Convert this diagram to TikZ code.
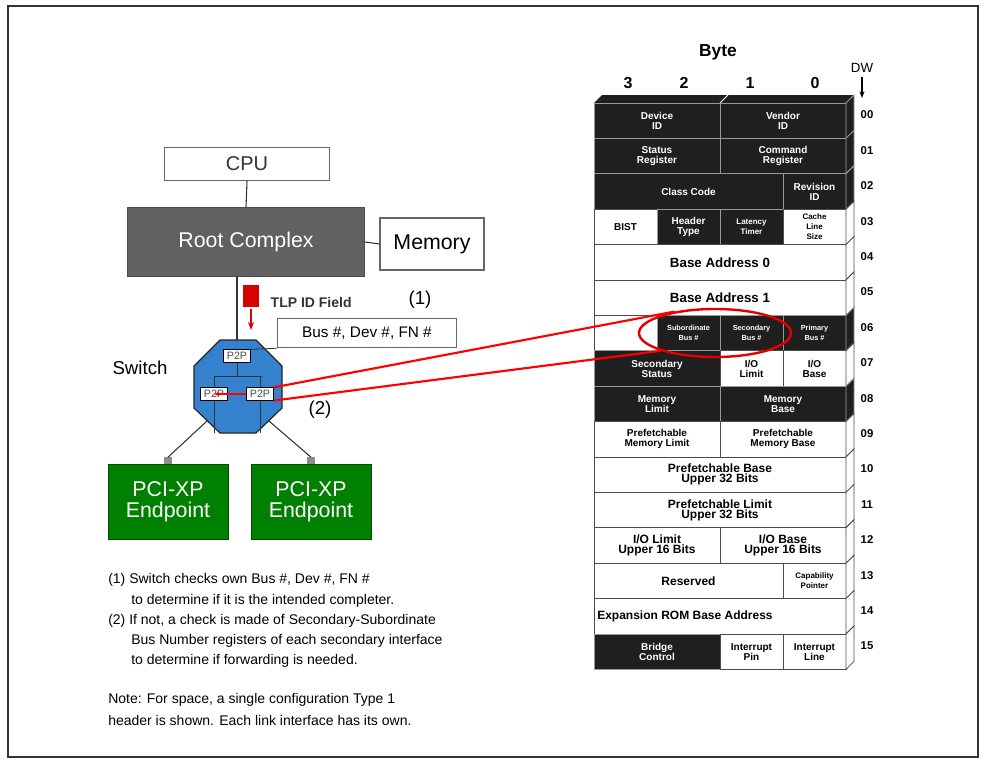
\documentclass[tikz,border=0pt]{standalone}
\usepackage{fontspec}
\setmainfont{Liberation Sans}
\usetikzlibrary{shapes.geometric,arrows.meta}
\newcommand\rc[5]{%
 \pgfmathsetmacro\ya{103+35.4*#3}\pgfmathsetmacro\yb{\ya+35.4}%
 \draw[#4] (#1,\ya) rectangle (#2,\yb);
 \node[#4txt] at ({(#1+#2)/2},{(\ya+\yb)/2}) {#5};}
\newcommand\sd[2]{%
 \pgfmathsetmacro\ya{103+35.4*#1}\pgfmathsetmacro\yb{\ya+35.4}%
 \draw[#2] (846,\ya) -- (854,\ya-8) -- (854,\yb-8) -- (846,\yb) -- cycle;
 \node[dwl] at (867,\ya+12) {\ifnum#1<10 0\fi#1};}
\tikzset{
 blk/.style={fill=black!88,draw=black!40,line width=0.6pt},
 wht/.style={fill=white,draw=black!70,line width=0.6pt},
 blktxt/.style={text=white,font=\bfseries\fontsize{7.5}{7.5}\selectfont,align=center,inner sep=0pt},
 whttxt/.style={text=black,font=\bfseries\fontsize{7.5}{7.5}\selectfont,align=center,inner sep=0pt},
 dwl/.style={font=\bfseries\fontsize{8.5}{9}\selectfont},
 box/.style={draw=black!60,line width=0.8pt,fill=white,inner sep=0pt},
 ep/.style={fill=green!50!black,draw=green!30!black,text=white,minimum width=90pt,minimum height=56pt,align=center,font=\fontsize{16}{16}\selectfont,inner sep=0pt},
 p2p/.style={draw=black,fill=white,font=\fontsize{8}{8}\selectfont,minimum width=20pt,minimum height=9.5pt,inner sep=0pt,text=black!70},
 note/.style={anchor=west,font=\fontsize{10.5}{11}\selectfont,inner sep=0pt},
 ln/.style={draw=black!80,line width=0.8pt},
 rl/.style={draw=red,line width=1.6pt}
}
\begin{document}
\begin{tikzpicture}[x=0.75pt,y=-0.75pt]
\useasboundingbox (0,0) rectangle (986,764);
\draw[black!80,line width=0.8pt] (8,6) rectangle (978,757);
% register table
\node[font=\bfseries\fontsize{13}{13}\selectfont] (byte) at (718,52) {Byte};
\foreach \c/\x in {3/628,2/684,1/750,0/815}{\node[font=\bfseries\fontsize{12}{12}\selectfont] (b\c) at (\x,83) {\c};}
\node[font=\fontsize{10}{10}\selectfont] (dw) at (862,68) {DW};
\coordinate (dwe) at (862,98);
\draw[-{Stealth[length=5pt]},line width=1pt] (dw.south) -- (dwe);
\fill[black!88] (594,103) -- (602,95) -- (854,95) -- (846,103) -- cycle;
\draw[white,line width=0.6pt] (720,103) -- (728,95);
\rc{594}{720}{0}{blk}{Device\\ID}
\rc{720}{846}{0}{blk}{Vendor\\ID}
\rc{594}{720}{1}{blk}{Status\\Register}
\rc{720}{846}{1}{blk}{Command\\Register}
\rc{594}{783}{2}{blk}{Class Code}
\rc{783}{846}{2}{blk}{Revision\\ID}
\rc{594}{657}{3}{wht}{BIST}
\rc{657}{720}{3}{blk}{Header\\Type}
\rc{720}{783}{3}{blk}{\fontsize{6}{6}\selectfont Latency\\\fontsize{6}{6}\selectfont Timer}
\rc{783}{846}{3}{wht}{\fontsize{6}{6}\selectfont Cache\\\fontsize{6}{6}\selectfont Line\\\fontsize{6}{6}\selectfont Size}
\rc{594}{846}{4}{wht}{\fontsize{10}{10}\selectfont\bfseries Base Address 0}
\rc{594}{846}{5}{wht}{\fontsize{10}{10}\selectfont\bfseries Base Address 1}
\rc{594}{657}{6}{wht}{}
\rc{657}{720}{6}{blk}{\fontsize{5.5}{6}\selectfont Subordinate\\\fontsize{5.5}{6}\selectfont Bus \#}
\rc{720}{783}{6}{blk}{\fontsize{5.5}{6}\selectfont Secondary\\\fontsize{5.5}{6}\selectfont Bus \#}
\rc{783}{846}{6}{blk}{\fontsize{5.5}{6}\selectfont Primary\\\fontsize{5.5}{6}\selectfont Bus \#}
\rc{594}{720}{7}{blk}{Secondary\\Status}
\rc{720}{783}{7}{wht}{I/O\\Limit}
\rc{783}{846}{7}{wht}{I/O\\Base}
\rc{594}{720}{8}{blk}{Memory\\Limit}
\rc{720}{846}{8}{blk}{Memory\\Base}
\rc{594}{720}{9}{wht}{Prefetchable\\Memory Limit}
\rc{720}{846}{9}{wht}{Prefetchable\\Memory Base}
\rc{594}{846}{10}{wht}{\fontsize{9}{9}\selectfont\bfseries Prefetchable Base\\\fontsize{9}{9}\selectfont\bfseries Upper 32 Bits}
\rc{594}{846}{11}{wht}{\fontsize{9}{9}\selectfont\bfseries Prefetchable Limit\\\fontsize{9}{9}\selectfont\bfseries Upper 32 Bits}
\rc{594}{720}{12}{wht}{\fontsize{9}{9}\selectfont\bfseries I/O Limit\\\fontsize{9}{9}\selectfont\bfseries Upper 16 Bits}
\rc{720}{846}{12}{wht}{\fontsize{9}{9}\selectfont\bfseries I/O Base\\\fontsize{9}{9}\selectfont\bfseries Upper 16 Bits}
\rc{594}{783}{13}{wht}{\fontsize{9}{9}\selectfont\bfseries Reserved}
\rc{783}{846}{13}{wht}{\fontsize{6}{6}\selectfont Capability\\\fontsize{6}{6}\selectfont Pointer}
\pgfmathsetmacro\ya{103+35.4*14}
\draw[wht] (594,\ya) rectangle (846,\ya+35.4);
\node[whttxt,anchor=west,font=\bfseries\fontsize{9}{9}\selectfont] (rom) at (597,\ya+17.7) {Expansion ROM Base Address};
\rc{594}{720}{15}{blk}{Bridge\\Control}
\rc{720}{783}{15}{wht}{Interrupt\\Pin}
\rc{783}{846}{15}{wht}{Interrupt\\Line}
\foreach \r/\s in {0/blk,1/blk,2/blk,3/wht,4/wht,5/wht,6/blk,7/wht,8/blk,9/wht,10/wht,11/wht,12/wht,13/wht,14/wht,15/wht}{\sd{\r}{\s}}
% left part
\node[box,minimum width=124pt,minimum height=25pt,font=\fontsize{15}{15}\selectfont,text=black!80] (cpu) at (247,164) {CPU};
\node[fill=black!62,draw=black!70,minimum width=178pt,minimum height=52pt,text=white,font=\fontsize{16}{16}\selectfont] (rc) at (246,242) {Root Complex};
\node[box,minimum width=78pt,minimum height=39pt,font=\fontsize{16}{16}\selectfont] (mem) at (432,244) {Memory};
\draw[ln] (cpu.south) -- (rc.north);
\draw[ln] (rc.east) -- (mem.west);
% switch octagon
\coordinate (o1) at (220,340); \coordinate (o2) at (256,340);
\coordinate (o3) at (282,366); \coordinate (o4) at (282,408);
\coordinate (o5) at (256,433); \coordinate (o6) at (220,433);
\coordinate (o7) at (194,408); \coordinate (o8) at (194,366);
\draw[fill=cyan!55!blue!85,draw=black!85,line width=0.9pt] (o1)--(o2)--(o3)--(o4)--(o5)--(o6)--(o7)--(o8)--cycle;
\coordinate (swt) at (237,340);
\draw[ln] (rc.south -| swt) -- (swt);
\node[font=\fontsize{14}{14}\selectfont] (swl) at (140,368) {Switch};
\node[p2p] (pu) at (237,356) {P2P};
\node[p2p] (pl) at (214,394) {P2P};
\node[p2p] (pr) at (260,394) {P2P};
\draw[ln,line width=0.5pt] (pu.south) -- (237,376) (214,376) -- (262,376) (214,376) -- (pl.north) (260,376) -- (pr.north) (pl.south) -- (214,433) (pr.south) -- (260,433);
\fill[red!85!black] (243,285) rectangle (259,307);
\coordinate (ra) at (251,309); \coordinate (rb) at (251,330);
\draw[red!85!black,line width=1.5pt,-{Stealth[length=6pt]}] (ra) -- (rb);
\node[anchor=west,font=\bfseries\fontsize{10.5}{11}\selectfont,text=black!80] (tlp) at (266,302) {TLP ID Field};
\node[font=\fontsize{14}{14}\selectfont] (n1) at (420,300) {(1)};
\node[box,minimum width=134pt,minimum height=22pt,font=\fontsize{11.5}{12}\selectfont] (bus) at (367,333) {Bus \#, Dev \#, FN \#};
\draw[ln,line width=0.6pt] (bus.south west) -- (pu.north east);
\node[font=\fontsize{14}{14}\selectfont] (n2) at (320,410) {(2)};
\node[ep] (e1) at (168,502) {PCI-XP\\Endpoint};
\node[ep] (e2) at (311,502) {PCI-XP\\Endpoint};
\node[fill=black!45,minimum width=6pt,minimum height=5pt,inner sep=0pt,anchor=south] (c1) at (e1.north) {};
\node[fill=black!45,minimum width=6pt,minimum height=5pt,inner sep=0pt,anchor=south] (c2) at (e2.north) {};
\coordinate (s1) at (207,421); \coordinate (s2) at (269,421);
\draw[ln] (s1) -- (c1.north);
\draw[ln] (s2) -- (c2.north);
% red connectors
\node[draw=red!90!black,line width=1.8pt,ellipse,minimum width=114pt,minimum height=36pt] (ell) at (715,333) {};
\draw[rl] (pr.north east) -- (ell.180-28);
\draw[rl] (pr.south east) -- (ell.south west);
\draw[red,line width=1.4pt,-{Stealth[length=4pt]}] (pr.west) -- (pl.center);
% notes
\node[note] (t1) at (108,580) {(1) Switch checks own Bus \#, Dev \#, FN \#};
\node[note] (t2) at (131,601) {to determine if it is the intended completer.};
\node[note] (t3) at (108,621) {(2) If not, a check is made of Secondary-Subordinate};
\node[note] (t4) at (131,641) {Bus Number registers of each secondary interface};
\node[note] (t5) at (131,661) {to determine if forwarding is needed.};
\node[note] (t6) at (108,700) {Note: For space, a single configuration Type 1};
\node[note] (t7) at (108,720) {header is shown. Each link interface has its own.};
\end{tikzpicture}
\end{document}
